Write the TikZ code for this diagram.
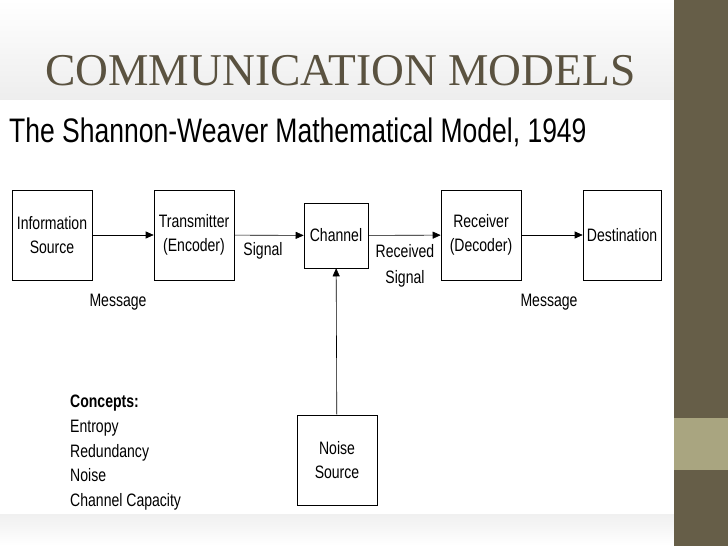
\documentclass[tikz,border=0pt]{standalone}
\usepackage{fontspec}
\setmainfont{Liberation Sans}[FakeStretch=0.78]
\newfontfamily\titlefont{Liberation Serif}
\usetikzlibrary{arrows.meta}
\definecolor{olive}{HTML}{665E48}
\definecolor{lightolive}{HTML}{A9A580}
\definecolor{titlecol}{HTML}{5A5240}
\begin{document}
\begin{tikzpicture}[x=1pt,y=-1pt,
  blk/.style={draw,semithick,minimum width=80pt,minimum height=90pt,align=center,font=\fontsize{18}{24}\selectfont,inner sep=1pt},
  lbl/.style={font=\fontsize{18}{24}\selectfont,align=center},
  arr/.style={semithick,-{Triangle[length=8pt,width=7pt]}}]
\useasboundingbox (0,0) rectangle (728,546);
\shade[top color=white,bottom color=black!7] (0,0) rectangle (674,100);
\shade[top color=black!6,bottom color=white] (0,514) rectangle (674,546);
\fill[white] (0,100) rectangle (674,514);
\fill[olive] (674,0) rectangle (728,546);
\fill[lightolive] (674,418) rectangle (728,470);
\node[anchor=base west,inner sep=0,text=titlecol,font=\titlefont\fontsize{45.5}{45}\selectfont] (title) at (45,85) {COMMUNICATION MODELS};
\node[anchor=base west,inner sep=0,font=\fontsize{34}{34}\selectfont] (sub) at (9,142) {The Shannon-Weaver Mathematical Model, 1949};
\node[blk] (info) at (52,235) {Information\\Source};
\node[blk] (tx) at (194,235) {Transmitter\\(Encoder)};
\node[blk,minimum width=64pt,minimum height=65pt] (ch) at (336,235.5) {Channel};
\node[blk] (rx) at (481,235) {Receiver\\(Decoder)};
\node[blk,minimum width=78pt] (dst) at (622,235) {Destination};
\node[blk] (noise) at (337,460) {Noise\\Source};
\draw[arr] (info) -- (tx);
\draw[arr] (tx) -- (ch);
\draw[arr] (ch) -- (rx);
\draw[arr] (rx) -- (dst);
\draw[arr] (noise) -- (ch);
\node[lbl] (m1) at (118,302) {Message};
\node[lbl] (sig) at (263,251) {Signal};
\node[lbl,font=\fontsize{18}{26}\selectfont] (rs) at (405,266) {Received\\Signal};
\node[lbl] (m2) at (549,302) {Message};
\node[anchor=north west,align=left,inner sep=0,font=\fontsize{18}{24.7}\selectfont] (concepts) at (70,395) {\textbf{Concepts:}\\Entropy\\Redundancy\\Noise\\Channel Capacity};
\end{tikzpicture}
\end{document}
